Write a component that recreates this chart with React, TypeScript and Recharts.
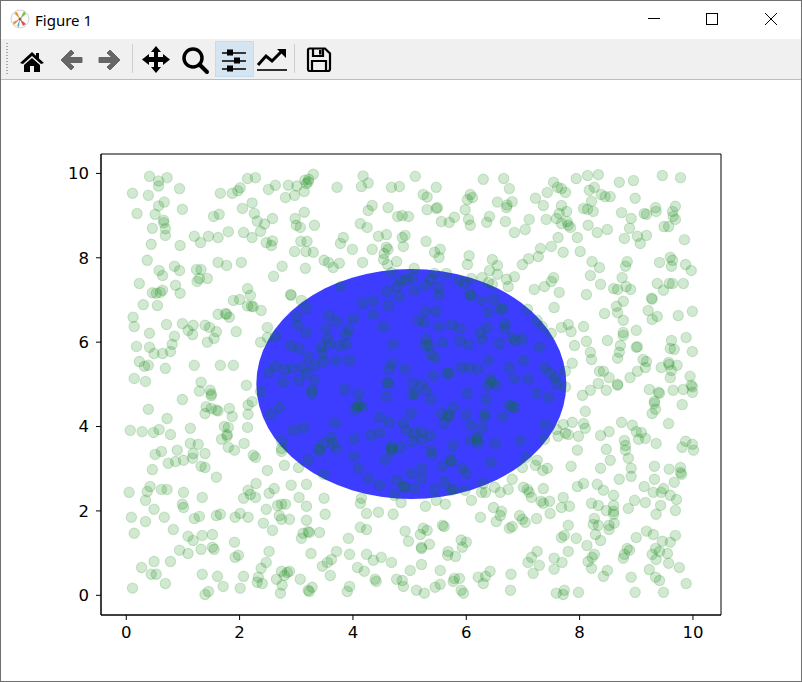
import React from "react";
import { ScatterChart, Scatter, XAxis, YAxis, ReferenceArea } from "recharts";

// values, one list per region of the plot
const upperLeft: [number, number][] = [
  [0.41,9.93],[0.57,9.82],[0.57,9.7],[0.72,9.9],[0.94,9.64],[0.11,9.53],[0.39,9.48],[1.66,9.53],[1.87,9.53],[1.97,9.59],[2.01,9.66],[2.14,9.88],[2.28,9.9],[2.51,9.62],[2.63,9.72],[2.86,9.72],[3.01,9.7],[3.14,9.57],[2.97,9.48],[2.81,9.43],[3.15,9.84],[3.21,9.8],
  [0.67,9.32],[0.57,9.23],[0.19,9.05],[0.51,9.03],[0.99,9.15],[0.66,8.89],[0.66,8.83],[0.69,8.69],[0.46,8.7],[0.69,8.53],[1.54,8.98],[1.64,9.03],[2.05,9.17],[2.22,9.3],[2.26,9.05],[2.31,8.87],[2.44,8.8],[2.58,8.93],[2.37,8.63],[2.07,8.6],[1.8,8.62],[1.62,8.48],[1.45,8.51],[1.2,8.51],[1.31,8.36],[0.95,8.29],[0.44,8.32],[2.22,8.48],[2.47,8.36],[2.58,8.4],[2.56,8.29],[2.98,8.93],[3.14,9.08],[3,8.77],[3.07,8.72],[3.08,8.39],[2.97,8.15],[3.17,8.15],[3.19,8.39],
  [0.37,7.94],[0.58,7.7],[0.64,7.58],[0.85,7.8],[0.94,7.7],[1.24,7.72],[1.32,7.72],[1.43,7.51],[1.29,7.51],[1.25,7.44],[1.62,7.89],[1.77,7.82],[2.03,7.89],[2.75,7.8],[2.6,7.56],[3.16,7.75],[0.23,7.39],[0.46,7.17],[0.53,7.16],[0.6,7.18],[0.64,7.23],[0.87,7.35],[0.95,7.16],[2.14,7.27],[2.19,7.11],[0.3,6.89],[0.55,6.87],[1.89,6.99],[2,7.01],[2.14,6.86],[2.21,6.85],[2.24,6.84],[2.38,6.75],[2.9,7.13],[2.91,7.11],[3.09,6.99],
  [0.12,6.59],[0.14,6.37],[0.71,6.42],[0.99,6.44],[1.18,6.4],[1.09,6.28],[1.39,6.4],[1.47,6.35],[1.59,6.25],[1.17,6.18],[1.55,6.09],[1.43,6],[1.62,6.66],[1.75,6.68],[1.77,6.66],[1.82,6.59],[1.94,6.25],[2.49,6.35],[2.49,6.11],[2.37,6],[0.41,6.21],[0.85,6.14],[0.81,5.95],[0.18,5.9],[0.41,5.88],[0.49,5.73],[0.64,5.73],[0.78,5.78],[0.23,5.54],[0.32,5.43],[0.39,5.45],[0.69,5.38],[1.2,5.45],[1.66,5.45],[1.89,5.45],[0.14,5.14],[0.34,5.07],[1.32,5.05],[2.12,4.98],
  [2.63,6.14],[3.01,6.61],[3.02,6.4],[3.17,6.8],[3.17,6.23],[2.91,5.92],[3.05,5.85],[3.21,5.64],[2.63,5.43],[2.52,5.28],[2.79,5.35],[2.93,5.38],[2.77,5.05],[3.12,5.4],[3.05,5.1],[3.19,5.26],
];

const upperMiddle: [number, number][] = [
  [3.3,9.98],[3.22,9.86],[3.18,9.76],[3.72,9.67],[4.18,9.94],[4.27,9.77],[4.15,9.69],[5.1,9.93],[4.68,9.67],[4.82,9.69],[5.47,9.67],[5.24,9.5],[5.31,9.44],[6.3,9.86],[6.66,9.88],[6.76,9.64],[6.07,9.5],[6.02,9.38],[6.11,9.43],[6.55,9.32],[6.71,9.19],[6.72,9.25],[6.81,9.33],
  [4.34,9.24],[4.27,9.12],[4.62,9.19],[5.31,9.14],[5.49,9.19],[5.47,9.17],[5.98,9.14],[6.41,8.98],[6.36,8.84],[6.69,8.86],[6.85,8.6],[4.79,8.98],[4.87,9],[4.98,8.98],[5.79,8.96],[5.7,8.84],[5.56,8.86],[6.04,8.91],[6.07,8.77],[4.13,8.81],[4.25,8.72],[3.32,8.77],[4.45,8.51],[4.59,8.55],[3.83,8.48],[3.78,8.34],[4.92,8.53],[4.87,8.48],[4.89,8.27],[5.29,8.39],[3.99,8.2],[4.34,8.2],[4.59,8.25],[4.62,8.2],[4.55,8.1],[4.54,7.96],[5.44,8.13],[5.54,8.2],[5.52,8.01],[3.3,8.13],
  [3.49,7.94],[3.57,7.89],[3.76,7.87],[3.65,7.77],[4.17,7.89],[4.77,7.91],[4.61,7.84],[6.05,8.05],[6.02,7.84],[6.46,7.96],[6.55,7.82],[6.41,7.7],[6.55,7.61],[6.28,7.53],[6.71,7.49],[6.85,7.55],[6.74,7.32],[5.08,7.75],[5.65,7.63],[5.44,7.63],[6.09,7.51],[6.39,7.42],[6.46,7.37],
  [4.68,7.65],[5.05,7.53],[4.94,7.49],[4.85,7.46],[5.37,7.49],[4.78,7.32],[5.28,7.35],[5.51,7.3],[5.52,7.13],[3.79,7.32],[4.61,7.2],[5.08,7.23],[4.82,7.08],[5.87,7.46],[5.97,7.39],[6.07,7.13],[6.08,7.11],[6.28,6.99],[6.49,7.01],[4.17,6.92],[4.36,6.97],[4.62,6.87],[4.36,6.66],[3.58,6.63],[3.72,6.49],[4.01,6.56],[6.39,6.71],[6.65,6.8],[6.6,6.78],[5.28,6.73],[5.47,6.73],[5.15,6.52],[5.26,6.47],[4.54,6.37],[5.52,6.37],[5.74,6.42],[5.88,6.32],[6.25,6.23],[6.37,6.35],[6.69,6.44],[6.67,6.32],[6.81,6.11],
  [3.53,6.32],[3.92,6.3],[3.87,6.18],[3.55,6.09],[3.58,5.95],[3.76,5.92],[3.88,5.95],[3.44,5.88],[3.46,5.73],[3.32,5.45],[3.48,5.54],[3.71,5.57],[3.94,5.57],[4.71,5.95],[5.28,5.92],[5.29,6.07],[5.35,5.92],[5.58,5.99],[5.89,6.02],[6.04,5.95],[6.28,6.07],[6.58,5.97],[5.38,5.71],[5.45,5.62],[6.39,5.57],[4.69,5.5],[4.64,5.36],[4.92,5.36],[5.91,5.4],[6.05,5.4],[6.2,5.36],[6.76,5.4],[5.67,5.26],[5.69,5.27],[5.42,5.21],[6.42,5.12],[6.45,5.06],[3.32,5.09],[4.61,5.05],[5.05,5.02],[5.21,5],[6.85,5.14],
];

const upperRight: [number, number][] = [
  [7.54,9.79],[7.61,9.67],[7.68,9.64],[7.75,9.55],[7.43,9.55],[7.22,9.41],[7.36,9.24],[7.94,9.88],[8.14,9.95],[8.33,9.97],[8.26,9.67],[8.17,9.6],[8.7,9.79],[8.95,9.83],[9.46,9.95],[9.78,9.9],[8.38,9.5],[8.45,9.45],[8.54,9.45],[8.98,9.41],[8.21,9.34],[8.07,9.17],[8.14,9.15],[8.24,9.1],[7.68,9.24],[7.77,9.1],[7.64,9.05],[7.59,8.93],[7.41,8.91],[7.11,8.91],[7.04,8.67],[7.68,8.81],[7.78,8.86],[7.8,8.77],[7.84,8.72],[8.15,8.77],[8.31,8.6],[8.49,8.67],[8.74,9.07],[8.91,8.93],[8.88,8.7],[8.79,8.46],[9.14,9.05],[9.18,9.03],[9.34,9.19],[9.35,9.1],[9.69,9.22],[9.64,9.1],[9.65,8.98],[9.69,8.91],[9.49,8.74],[9.57,8.74],
  [7.96,8.48],[7.62,8.48],[7.5,8.27],[7.31,8.22],[7.27,8.03],[7.1,7.98],[6.99,7.84],[7.71,8.13],[8.01,8.15],[9.02,8.51],[9.18,8.53],[9.07,8.34],[9.85,8.43],[8.22,7.91],[8.35,7.77],[8.84,7.91],[8.81,7.8],[9.41,7.89],[9.6,8.01],[9.64,7.94],[9.62,7.8],[9.87,7.84],[9.97,7.7],[8.19,7.58],[8.75,7.53],[7.54,7.53],[7.5,7.44],[7.38,7.32],[7.2,7.25],[8.37,7.37],[8.6,7.27],[8.67,7.25],[8.82,7.32],[8.9,7.25],[9.37,7.39],[9.58,7.39],[9.64,7.39],[9.83,7.39],[9.48,7.23],[7.64,7.18],[8.12,7.13],[9.27,7.04],[9.28,7.02],[8.77,6.97],[8.65,6.85],[8.67,6.7],[7.55,6.82],[8.44,6.68],[9.21,6.75],[9.37,6.61],[9.28,6.54],[9.74,6.63],[9.99,6.73],[8.77,6.52],
  [7.68,6.35],[7.8,6.42],[7.85,6.25],[8.07,6.37],[9,6.28],[8.77,6.23],[8.77,6.16],[7.5,6.21],[7.91,5.92],[8.12,6.02],[8.49,6.04],[8.72,5.92],[9,5.88],[9.02,5.89],[9.62,6.04],[9.88,6.11],[9.6,5.85],[9.67,5.83],[9.99,5.78],[8.19,5.76],[8.21,5.59],[8.7,5.76],[8.67,5.62],[9.12,5.59],[9.18,5.54],[7.87,5.5],[9.16,5.4],[9.02,5.31],[9.44,5.4],[9.57,5.52],[9.58,5.47],[9.72,5.45],[9.62,5.33],[9.6,5.16],[8.35,5.31],[8.42,5.31],[8.52,5.16],[8.89,5.16],[9.95,5.19],[8.33,5.02],[8.67,5],[7.75,5.31],[9.97,4.98],
  [7.08,6.78],[7.25,6.52],[7.34,6.37],[6.87,6.04],[6.99,6.07],[7.29,5.88],[7.01,5.57],[7.38,5.4],[7.48,5.28],[7.57,5.16],[7.09,5.12],
];

const lowerLeft: [number, number][] = [
  [1.48,4.86],[1.29,4.84],[1.5,4.77],[1.5,4.73],[0.99,4.64],[0.39,4.41],[1.41,4.47],[1.5,4.43],[1.59,4.39],[1.62,4.37],[1.39,4.31],[1.82,4.43],[1.87,4.24],[2.15,4.51],[2.22,4.59],[2.15,4.29],[0.72,4.19],[0.07,3.91],[0.28,3.88],[0.48,3.86],[0.58,3.93],[0.78,3.81],[1.13,3.96],[1.73,4],[1.8,3.98],[2.14,3.98],[1.78,3.81],[1.78,3.77],[1.68,3.7],[1.13,3.6],[1.27,3.58],[2.08,3.6],[1.39,3.36],[1.18,3.36],[1.17,3.25],[0.9,3.44],[0.62,3.41],[0.51,3.34],[0.74,3.13],[0.87,3.17],[1.01,3.2],[1.8,3.51],[1.91,3.44],[2.24,3.32],[2.28,3.27],[1.32,3.06],[1.39,3.03],[0.46,2.98],[1.59,2.8],[2.49,2.96],[2.79,3.08],[3.04,3.03],[2.74,3.48],[2.74,3.41],
  [2.29,2.65],[0.42,2.58],[0.37,2.46],[0.05,2.44],[0.62,2.51],[0.72,2.51],[1.01,2.44],[0.34,2.25],[1.34,2.32],[2.15,2.49],[2.19,2.39],[2.28,2.32],[2.07,2.3],[2.52,2.42],[2.61,2.53],[2.91,2.61],[3.18,2.63],[3.05,2.32],[0.49,2.04],[0.99,2.16],[1.01,2.08],[0.09,1.85],[0.34,1.75],[0.67,1.85],[0.83,1.56],[1.2,1.82],[1.29,1.87],[1.59,1.89],[1.66,1.92],[1.92,1.85],[2.01,1.94],[2.15,1.85],[2.47,2.04],[2.67,2.13],[2.74,2.16],[2.81,2.16],[2.7,1.89],[2.74,1.8],[2.88,1.8],[3.18,2.11],[3.18,1.78],[2.42,1.71],[2.58,1.54],
  [0.14,1.47],[1.09,1.4],[1.18,1.3],[1.34,1.42],[1.52,1.44],[1.91,1.26],[0.94,1.07],[1.09,0.99],[1.32,1.09],[1.52,1.14],[1.55,1.09],[2.52,1.04],[1.98,0.95],[1.92,0.9],[0.49,0.8],[0.78,0.8],[0.27,0.66],[0.44,0.5],[0.53,0.5],[2.47,0.78],[2.38,0.64],[1.34,0.5],[1.61,0.45],[2.07,0.45],[0.69,0.28],[0.11,0.17],[1.71,0.21],[2.01,0.17],[1.45,0.09],[1.39,0.02],[2.33,0.43],[2.31,0.31],[2.4,0.28],[2.65,0.38],[2.74,0.57],[2.84,0.54],[2.88,0.57],[2.79,0.47],[2.75,0.24],[2.72,0.05],[3.07,0.38],[3.21,0.12],[3.12,1.47],[3.09,1.35],[3.21,1.51],[3.26,0.99],
  [2.37,4.83],[2.7,4.45],[2.54,4.29],[2.95,3.91],[3.13,3.98],[2.74,3.65],[3.21,3.21],
];

const lowerMiddle: [number, number][] = [
  [3.85,4.88],[4.1,4.77],[4.59,4.71],[4.62,5.01],[5.05,4.77],[5.1,4.77],[5.29,4.86],[5.38,4.64],[6.02,4.79],[6.35,4.64],[6.37,4.96],[6.53,4.98],[6.81,4.47],[6.76,4.51],[3.27,4.86],[3.28,4.79],[4.1,4.51],[4.08,4.47],[4.17,4.47],[4.04,4.41],[4.47,4.22],[4.64,4.1],[3.69,4.08],[4.89,4.08],[5.03,4.31],[4.94,3.91],[5.56,4.31],[5.68,4.27],[5.7,4.24],[5.61,4.08],[5.77,4.45],[6,4.29],[6.33,4.31],[6.32,4.22],[6.65,4.24],[6.09,4.03],[6.28,3.96],[4.47,3.86],[4.32,3.79],[5.08,3.84],[5.21,3.88],[5.37,3.79],[5.05,3.65],[5.22,3.7],[3.62,3.74],[3.64,3.6],[4.02,3.7],[3.48,3.6],[3.39,3.46],[3.42,3.44],[3.72,3.48],[4.68,3.52],[4.68,3.48],[4.69,3.41],[4.84,3.51],[5.77,3.55],[6.18,3.74],[6.2,3.7],[6.07,3.67],[6.21,3.6],[6.51,3.6],[5.37,3.44],[5.4,3.34],[4.57,3.22],[4.02,3.29],[5.72,3.22],[5.74,3.17],[5.58,3.06],[6.44,3.15],[4.1,3.01],[5.22,3.01],[5.03,2.89],[5.21,2.77],[5.93,3.01],[6,2.89],[3.48,2.87],[4.27,2.77],[4.78,2.72],[4.47,2.61],[4.89,2.58],[4.91,2.56],[5.08,2.53],[5.61,2.7],[6.3,2.65],[5.44,2.51],[5.72,2.49],[5.77,2.51],[5.98,2.49],
  [4.73,2.37],[4.15,2.3],[4.13,2.18],[3.49,2.3],[4.85,2.2],[5.28,2.11],[5.47,2.25],[5.63,2.16],[6.09,2.25],[6.27,2.44],[6.34,2.44],[6.5,2.56],[6.6,2.44],[6.74,2.51],[6.81,2.75],[6.48,2.08],[6.62,1.99],[6.6,1.89],[6.25,1.85],[6.53,1.75],[6.76,1.59],[6.81,1.63],[3.51,1.92],[4.24,1.94],[4.45,1.97],[4.71,1.92],[3.41,1.49],[3.23,1.49],[4.13,1.61],[4.24,1.56],[3.92,1.35],[4.92,1.52],[5.24,1.59],[5.31,1.54],[5.19,1.44],[5.58,1.66],[5.61,1.63],[4.98,1.28],[5.21,1.14],[5.21,1.11],[5.35,1.21],[5.91,1.31],[6,1.26],[5.93,1.14],
  [3.71,1.04],[3.94,0.97],[4.24,0.97],[4.36,0.83],[4.5,0.9],[5.68,1.04],[5.67,0.95],[5.81,0.92],[4.68,0.78],[5.21,0.73],[3.62,0.85],[3.55,0.78],[3.46,0.69],[4.08,0.66],[4.2,0.57],[5.01,0.59],[5.54,0.59],[6.42,0.57],[3.6,0.47],[6.79,0.5],[4.39,0.38],[4.41,0.33],[4.77,0.38],[4.87,0.35],[4.89,0.21],[5.79,0.4],[5.88,0.4],[5.77,0.33],[6.21,0.43],[6.34,0.45],[6.3,0.28],[3.94,0.21],[3.9,0.09],[3.28,0.19],[3.23,0.09],[5.12,0.12],[5.26,0.05],[5.45,0.19],[5.54,0.26],[5.91,0.12],[5.95,0.05],[6.78,0.12],
];

const lowerRight: [number, number][] = [
  [7.75,4.94],[8.05,4.74],[8.19,4.86],[8.47,4.86],[8.67,4.98],[9.23,4.88],[9.39,4.81],[9.41,4.79],[9.32,4.6],[9.32,4.55],[9.34,4.41],[9.28,4.31],[9.65,4.86],[9.83,4.88],[9.99,4.94],[9.99,4.81],[9.81,4.52],[8.1,4.36],[9.57,4.07],[8.74,4.1],[8.93,4.03],[7.71,4.05],[7.87,4.1],[8.07,4.07],[8.1,3.96],[7.59,3.93],[7.62,3.77],[7.75,3.84],[7.8,3.81],[7.98,3.77],[8.37,3.79],[8.52,3.88],[9,3.88],[9.09,3.86],[9.04,3.7],[9.16,3.72],[9.35,3.6],[8.79,3.67],[8.81,3.55],[8.81,3.44],[7.96,3.44],[8.47,3.46],[9.87,3.65],[9.99,3.58],[9.81,3.51],[10.01,3.44],[8.86,3.25],[8.54,3.2],[7.25,3.2],[7.22,3.08],[6.99,3.03],[7.35,2.96],[7.43,3.01],[7.85,3.06],[8.37,3.01],[8.91,3.01],[8.91,2.82],[9.32,3.06],[9.58,2.99],[9.78,3.03],[9.78,2.91],[9.8,2.87],
  [8.7,2.75],[9.32,2.75],[9.67,2.68],[7.01,2.56],[7.08,2.51],[7.11,2.44],[7.15,2.32],[7.36,2.53],[7.96,2.58],[8.07,2.65],[8.31,2.63],[8.42,2.49],[9.14,2.58],[9.48,2.53],[9.44,2.44],[9.3,2.44],[9.6,2.37],[9.71,2.27],[8.6,2.37],[7.71,2.32],[8.97,2.25],[9.16,2.2],[7.32,2.23],[7.36,2.18],[7.47,2.23],[7.68,2.08],[7.82,2.11],[8.21,2.18],[8.33,2.13],[8.6,2.13],[9.43,2.13],[8.86,2.06],[8.47,2.01],[8.6,1.99],[8.6,1.92],[9.69,2.01],[7.48,1.94],[9.35,1.92],[6.94,1.89],[6.99,1.8],[7.04,1.73],[7.24,1.82],[7.8,1.66],[8.26,1.82],[8.24,1.68],[8.33,1.66],[8.52,1.66],[8.52,1.56],[8.61,1.71],
  [7.68,1.37],[7.73,1.42],[7.94,1.35],[8.28,1.44],[8.37,1.3],[9,1.37],[9.18,1.52],[9.3,1.44],[9.69,1.42],[9.46,1.28],[9.6,1.26],[8.13,1.18],[7.8,1.04],[7.25,1.04],[7.15,0.9],[7.09,0.78],[7.29,0.71],[7.55,0.88],[7.69,0.78],[7.55,0.62],[7.18,0.52],[8.26,0.97],[8.22,0.9],[8.15,0.8],[8.21,0.64],[8.77,0.88],[8.79,0.97],[8.84,1.11],[8.88,1.07],[9.34,1.11],[9.28,0.97],[9.35,0.85],[9.41,1.04],[9.55,0.99],[9.57,0.76],[9.76,0.66],[9.23,0.61],[8.49,0.59],[8.42,0.45],[8.91,0.43],[9.34,0.43],[9.41,0.35],[9.88,0.28],[7.59,0.05],[7.73,0.12],[7.71,0.02],[7.98,0.07],[8.98,0.07],[9.48,0.07],
  [7.24,4.79],[7.46,4.69],[6.85,4.45],[7.39,4.05],[6.95,3.67],[7.38,3.7],[7.06,3.27],[7.59,5.02],
];

const circleCentre = [{ x: 5.03, y: 5.01 }];
const xTicks = [0, 2, 4, 6, 8, 10];
const yTicks = [0, 2, 4, 6, 8, 10];

const points = [...upperLeft, ...upperMiddle, ...upperRight, ...lowerLeft, ...lowerMiddle, ...lowerRight].map(
  ([x, y]) => ({ x, y })
);

const tickStyle = { fontFamily: "DejaVu Sans", fontSize: 16.5, fill: "#000" };

const GreenDot = (props: any) => (
  <circle cx={props.cx} cy={props.cy} r={5.2} fill="#008000" fillOpacity={0.18} stroke="#008000" strokeOpacity={0.17} strokeWidth={1.1} />
);

const BlueCircle = (props: any) => <ellipse cx={props.cx} cy={props.cy} rx={155} ry={115} fill="#0000ff" fillOpacity={0.76} />;

// window chrome around the figure
const Icon: React.FC<{ x: number; y: number; w: number; h: number; children: React.ReactNode }> = ({ x, y, w, h, children }) => (
  <svg style={{ position: "absolute", left: x, top: y }} width={w} height={h} viewBox={`0 0 ${w} ${h}`}>
    {children}
  </svg>
);

const Toolbar = () => (
  <div style={{ position: "absolute", left: 1, top: 39, width: 800, height: 40, background: "#f0f0f0", borderBottom: "1px solid #bdbdbd" }}>
    <div style={{ position: "absolute", left: 214, top: 2, width: 37, height: 34, background: "#d5e4f1", border: "1px solid #c4dcf0" }} />
    <div style={{ position: "absolute", left: 131, top: 5, width: 1, height: 29, background: "#cfcfcf" }} />
    <div style={{ position: "absolute", left: 293, top: 5, width: 1, height: 29, background: "#cfcfcf" }} />
    <div style={{ position: "absolute", left: 5, top: 4, width: 2, height: 32, backgroundImage: "repeating-linear-gradient(#a8a8a8 0 1px, transparent 1px 3px)" }} />
  </div>
);

const TitleBar = () => (
  <>
    <Icon x={10} y={9} w={20} h={20}>
      <circle cx={10} cy={10} r={9} fill="#fbfbfb" stroke="#d0d0d0" />
      <path d="M10 10 L4 4 L7 3 Z" fill="#e8913a" />
      <path d="M10 10 L14 2 L16 5 Z" fill="#7cc04b" />
      <path d="M10 10 L3 13 L4 16 Z" fill="#e8913a" />
      <path d="M10 10 L16 15 L13 17 Z" fill="#d9534f" />
      <path d="M10 10 L9 18 L7 17 Z" fill="#6aa5d8" />
      <circle cx={10} cy={10} r={1.5} fill="#666" />
    </Icon>
    <div style={{ position: "absolute", left: 35, top: 10, fontFamily: "Noto Sans", fontSize: 15, color: "#000", lineHeight: "20px" }}>Figure 1</div>
    <Icon x={640} y={10} w={150} h={20}>
      <line x1={8} y1={8.5} x2={20} y2={8.5} stroke="#000" />
      <rect x={66.5} y={3.5} width={11} height={11} fill="none" stroke="#000" />
      <path d="M125 3 L137 15 M137 3 L125 15" stroke="#000" fill="none" />
    </Icon>
  </>
);

const ToolIcons = () => (
  <>
    <Icon x={19} y={50} w={28} h={24}>
      <path d="M13 2 L1 13 L4 14 L13 6 L22 14 L25 13 L20 8.5 V3 H17 V5.8 Z M13 8 L5 15 V22 H11 V16 H15 V22 H21 V15 Z" fill="#000" />
    </Icon>
    <Icon x={59} y={47} w={26} h={26}>
      <path d="M12 3 L2 13 L12 23 L15 20 L10 15.5 H23 V10.5 H10 L15 6 Z" fill="#666" stroke="#666" strokeLinejoin="round" />
    </Icon>
    <Icon x={97} y={47} w={26} h={26}>
      <path d="M13 3 L23 13 L13 23 L10 20 L15 15.5 H2 V10.5 H15 L10 6 Z" fill="#666" stroke="#666" strokeLinejoin="round" />
    </Icon>
    <Icon x={142} y={45} w={30} h={30}>
      <path d="M14 1 L19 7 H16 V12 H21 V9 L28 14.5 L21 20 V17 H16 V22 H19 L14 28 L9 22 H12 V17 H7 V20 L0 14.5 L7 9 V12 H12 V7 H9 Z" fill="#000" />
    </Icon>
    <Icon x={181} y={46} w={30} h={30}>
      <circle cx={12} cy={12} r={9} fill="none" stroke="#000" strokeWidth={3.5} />
      <line x1={18.5} y1={18.5} x2={26} y2={26} stroke="#000" strokeWidth={4} strokeLinecap="round" />
    </Icon>
    <Icon x={220} y={47} w={30} h={28}>
      <path d="M2 6 H26 M2 14 H26 M2 22 H26" stroke="#000" strokeWidth={1.6} />
      <rect x={7} y={2.5} width={6} height={6} fill="#000" />
      <rect x={14} y={10.5} width={6} height={6} fill="#000" />
      <rect x={7} y={18.5} width={6} height={6} fill="#000" />
    </Icon>
    <Icon x={256} y={47} w={32} h={26}>
      <path d="M2 18 L10 9 L16 14 L26 4" fill="none" stroke="#000" strokeWidth={3} />
      <path d="M21 2 H30 V11 Z" fill="#000" />
      <line x1={1} y1={23} x2={31} y2={23} stroke="#000" strokeWidth={1.6} />
    </Icon>
    <Icon x={306} y={47} w={26} h={26}>
      <path d="M2 3 Q2 1.5 3.5 1.5 H19 L24 6.5 V22 Q24 24 22 24 H4 Q2 24 2 22 Z" fill="none" stroke="#000" strokeWidth={2.2} />
      <path d="M7 2 V9 H17 V2 M6 24 V14 H20 V24" fill="none" stroke="#000" strokeWidth={2.2} />
      <rect x={13} y={3} width={2.5} height={4.5} fill="#000" />
    </Icon>
  </>
);

export default function App() {
  return (
    <div style={{ position: "absolute", left: 0, top: 0, width: 802, height: 682, background: "#fff", overflow: "hidden" }}>
      <ScatterChart width={802} height={682} margin={{ top: 154, right: 81, bottom: 37, left: 61 }}>
        <XAxis
          type="number"
          dataKey="x"
          domain={[-0.446, 10.495]}
          ticks={xTicks}
          height={30}
          tick={tickStyle}
          tickSize={5}
          tickMargin={6}
          stroke="#000"
          allowDataOverflow
        />
        <YAxis
          type="number"
          dataKey="y"
          domain={[-0.467, 10.46]}
          ticks={yTicks}
          width={40}
          tick={tickStyle}
          tickSize={5}
          tickMargin={7}
          stroke="#000"
          allowDataOverflow
        />
        <Scatter data={circleCentre} shape={BlueCircle} isAnimationActive={false} />
        <Scatter data={points} shape={GreenDot} isAnimationActive={false} />
        <ReferenceArea x1={-0.446} x2={10.495} y1={-0.467} y2={10.46} fill="none" stroke="#000" strokeWidth={1} />
      </ScatterChart>
      <TitleBar />
      <Toolbar />
      <ToolIcons />
      <div style={{ position: "absolute", left: 0, top: 0, width: 800, height: 680, border: "1px solid #6f6f6f" }} />
    </div>
  );
}
